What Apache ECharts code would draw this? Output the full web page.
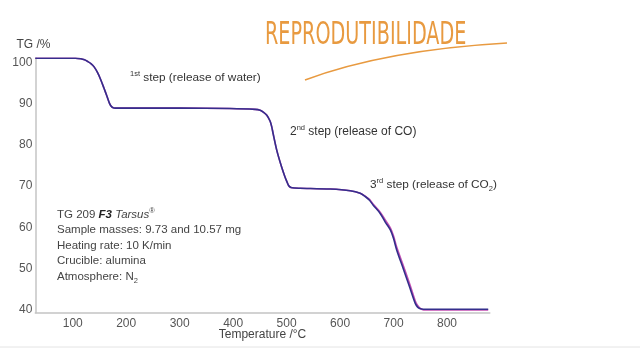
<!DOCTYPE html>
<html><head><meta charset="utf-8">
<script src="https://cdn.jsdelivr.net/npm/echarts@6/dist/echarts.min.js"></script>
<style>html,body{margin:0;padding:0;background:#fff}#c{width:640px;height:360px}</style>
</head><body><div id="c"></div>
<script>
// Temperature (°C)
var temps = [30, 105, 115, 122, 128, 134, 140, 146, 152, 158, 164, 169, 173, 177, 185, 301, 394, 441,
             450.5, 457, 463, 469, 472, 475, 482, 491, 497, 500.5, 504, 508, 515, 525,
             581.5, 619, 637.6, 647, 655, 662, 675, 684.5, 694, 700, 706, 719, 731, 740.6, 745, 750, 756, 877];
// sample 1 (9.73 mg) TG %
var tgA = [101.0, 101.0, 100.85, 100.6, 100.2, 99.7, 98.9, 97.6, 95.9, 93.9, 91.8, 90.0, 89.2, 88.95, 88.9, 88.9, 88.8, 88.6,
           88.4, 87.9, 87.2, 85.8, 84.5, 82.6, 78.5, 74.5, 72.2, 71.1, 70.1, 69.7, 69.55, 69.5,
           69.3, 68.9, 68.3, 67.5, 66.6, 65.4, 63.4, 61.3, 59.4, 57.3, 54.5, 49.7, 45.2, 41.6, 40.7, 40.3, 40.2, 40.2];
// sample 2 (10.57 mg) TG %
var tgB = [101.0, 101.0, 100.85, 100.6, 100.2, 99.7, 98.9, 97.6, 95.9, 93.9, 91.8, 90.0, 89.2, 88.95, 88.9, 88.9, 88.8, 88.6,
           88.4, 87.9, 87.2, 85.8, 84.5, 82.6, 78.5, 74.5, 72.2, 71.1, 70.1, 69.7, 69.55, 69.5,
           69.3, 68.9, 68.3, 67.6, 66.8, 65.6, 63.7, 61.8, 59.9, 57.9, 55.2, 50.5, 46.0, 42.2, 41.1, 40.4, 40.0, 40.0];
var xTicks = [100, 200, 300, 400, 500, 600, 700, 800];
var yTicks = [40, 50, 60, 70, 80, 90, 100];

function pairs(xs, ys){ return xs.map(function(x,i){return [x, ys[i]];}); }

var chart = echarts.init(document.getElementById('c'), null, {renderer:'canvas'});
var F = 'Liberation Sans, Arial, sans-serif';
chart.setOption({
  animation:false,
  backgroundColor:'#ffffff',
  grid:{left:35.3, top:58, width:454.5, height:254.7},
  xAxis:{type:'value', min:30, max:880,
    axisLine:{show:true, lineStyle:{color:'#c4c4c4', width:1.5}},
    axisTick:{show:false}, splitLine:{show:false},
    axisLabel:{customValues:xTicks, color:'#555', fontSize:12, fontFamily:F, margin:5}},
  yAxis:{type:'value', min:39.35, max:101.05,
    axisLine:{show:true, lineStyle:{color:'#c4c4c4', width:1.5}},
    axisTick:{show:false}, splitLine:{show:false},
    axisLabel:{customValues:yTicks, color:'#555', fontSize:12, fontFamily:F, margin:3}},
  series:[
    {type:'line', data:pairs(temps,tgB), showSymbol:false, smooth:0.3,
     lineStyle:{color:'#c24fb3', width:1.6}, z:2},
    {type:'line', data:pairs(temps,tgA), showSymbol:false, smooth:0.3,
     lineStyle:{color:'#342e8c', width:1.6}, z:3}
  ],
  graphic:[
    {type:'text', x:16.5, y:45, style:{text:'TG /%', font:'12px '+F, fill:'#444', textVerticalAlign:'middle'}},
    {type:'text', x:262.5, y:335, style:{text:'Temperature /°C', font:'12px '+F, fill:'#444', textAlign:'center', textVerticalAlign:'middle'}},
    {type:'text', x:130, y:78, style:{text:'{s|1st} step (release of water)', font:'11.8px '+F, fill:'#333', textVerticalAlign:'middle',
      rich:{s:{fontSize:7.5, fontFamily:F, verticalAlign:'top', fill:'#333', lineHeight:16}}}},
    {type:'text', x:290, y:131.5, style:{text:'2{s|nd} step (release of CO)', font:'12px '+F, fill:'#333', textVerticalAlign:'middle',
      rich:{s:{fontSize:7.5, fontFamily:F, verticalAlign:'top', fill:'#333', lineHeight:16}}}},
    {type:'text', x:370, y:185, style:{text:'3{s|rd} step (release of CO{b|2})', font:'11.8px '+F, fill:'#333', textVerticalAlign:'middle',
      rich:{s:{fontSize:7.5, fontFamily:F, verticalAlign:'top', fill:'#333', lineHeight:16},
            b:{fontSize:7.5, fontFamily:F, verticalAlign:'bottom', fill:'#333', lineHeight:16}}}},
    {type:'text', x:57, y:207, style:{
      text:'TG 209 {bi|F3} {i|Tarsus}{s|®}\nSample masses: 9.73 and 10.57 mg\nHeating rate: 10 K/min\nCrucible: alumina\nAtmosphere: N{b|2}',
      font:'11.5px '+F, fill:'#444', lineHeight:15.5, textVerticalAlign:'top',
      rich:{bi:{fontSize:11.5, fontFamily:F, fontWeight:'bold', fontStyle:'italic', fill:'#222', lineHeight:15.5},
            i:{fontSize:11.5, fontFamily:F, fontStyle:'italic', fill:'#444', lineHeight:15.5},
            s:{fontSize:7.5, fontFamily:F, verticalAlign:'top', fill:'#444', lineHeight:15.5},
            b:{fontSize:7.5, fontFamily:F, verticalAlign:'bottom', fill:'#444', lineHeight:15.5}}}},
    {type:'text', x:265, y:36, scaleX:0.6, scaleY:1, style:{text:'REPRODUTIBILIDADE', font:'32px DejaVu Sans, sans-serif', fill:'#e89a40', textVerticalAlign:'middle'}},
    {type:'bezierCurve', shape:{x1:305, y1:80, x2:507, y2:43, cpx1:385, cpy1:50}, style:{stroke:'#e89a40', lineWidth:1.6, fill:null}},
    {type:'line', shape:{x1:0, y1:347, x2:640, y2:347}, style:{stroke:'#e4e4e4', lineWidth:1}}
  ]
});
</script></body></html>
